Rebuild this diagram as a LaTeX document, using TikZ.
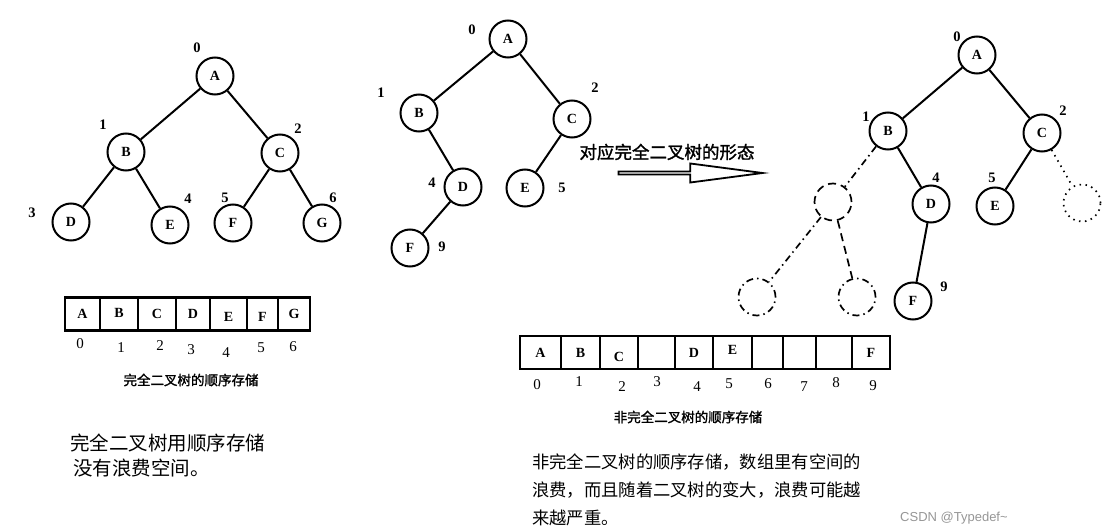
\documentclass[tikz,border=0pt]{standalone}
\usepackage{fontspec}
\setmainfont{Liberation Serif}
\newfontfamily\cjk{Noto Sans CJK SC}
\newfontfamily\cjkb[FakeBold=1.5]{Noto Sans CJK SC}
\newfontfamily\wmfont{Liberation Sans}
\usetikzlibrary{shapes.arrows}
\definecolor{wmgray}{RGB}{150,150,150}
\tikzset{
  tn/.style={circle, draw, line width=2pt, minimum size=37pt, inner sep=0pt,
    font=\bfseries\fontsize{14}{14}\selectfont},
  idx/.style={inner sep=0pt, font=\fontsize{15}{15}\selectfont},
  tidx/.style={inner sep=0pt, font=\bfseries\fontsize{14.5}{14.5}\selectfont},
  edge/.style={line width=2pt},
  ghost/.style={circle, draw, line width=1.7pt, minimum size=37pt, inner sep=0pt},
  cell/.style={draw, line width=2.2pt, minimum height=33pt, inner sep=0pt,
    text height=9.5pt, text depth=0pt,
    font=\bfseries\fontsize{14}{14}\selectfont},
  capt/.style={inner sep=0pt, font=\cjkb\fontsize{13.5}{13.5}\selectfont},
  bodytxt/.style={anchor=west, inner sep=0pt},
  dashdot/.style={dash pattern=on 7pt off 4pt on 1.5pt off 4pt},
  longdash/.style={dash pattern=on 8pt off 5pt},
  dotty/.style={dash pattern=on 1.5pt off 4.5pt},
}
\begin{document}
\begin{tikzpicture}[x=1pt,y=-1pt]
\useasboundingbox (0,0) rectangle (1112,527);

% ---------- left complete tree ----------
\node[tn] (LA) at (215,76) {A};
\node[tn] (LB) at (126,152) {B};
\node[tn] (LC) at (280,153) {C};
\node[tn] (LD) at (71,222) {D};
\node[tn] (LE) at (170,225) {E};
\node[tn] (LF) at (233,223) {F};
\node[tn] (LG) at (322,223) {G};
\draw[edge] (LA) -- (LB);
\draw[edge] (LA) -- (LC);
\draw[edge] (LB) -- (LD);
\draw[edge] (LB) -- (LE);
\draw[edge] (LC) -- (LF);
\draw[edge] (LC) -- (LG);
\node[tidx] (la0) at (197,48) {0};
\node[tidx] (la1) at (103,125) {1};
\node[tidx] (la2) at (298,129) {2};
\node[tidx] (la3) at (32,213) {3};
\node[tidx] (la4) at (188,199) {4};
\node[tidx] (la5) at (225,198) {5};
\node[tidx] (la6) at (333,198) {6};

% left array
\node[cell, minimum width=35pt] (ca0) at (82.5,314) {A};
\node[cell, minimum width=38pt] (ca1) at (119,314) {\raisebox{1.5pt}{B}};
\node[cell, minimum width=38pt] (ca2) at (157,314) {C};
\node[cell, minimum width=34pt] (ca3) at (193,314) {D};
\node[cell, minimum width=37pt] (ca4) at (228.5,314) {\raisebox{-2.5pt}{E}};
\node[cell, minimum width=31pt] (ca5) at (262.5,314) {\raisebox{-2.5pt}{F}};
\node[cell, minimum width=32pt] (ca6) at (294,314) {G};
\node[idx] (ia0) at (80,344) {0};
\node[idx] (ia1) at (121,348) {1};
\node[idx] (ia2) at (160,346) {2};
\node[idx] (ia3) at (191,350) {3};
\node[idx] (ia4) at (226,353) {4};
\node[idx] (ia5) at (261,348) {5};
\node[idx] (ia6) at (293,347) {6};
\node[capt] (capL) at (191,380) {完全二叉树的顺序存储};

\node[bodytxt, font=\cjk\fontsize{19.5}{19.5}\selectfont] (tL1) at (70,443) {完全二叉树用顺序存储};
\node[bodytxt, font=\cjk\fontsize{19.5}{19.5}\selectfont] (tL2) at (73,468) {没有浪费空间。};

% ---------- middle non-complete tree ----------
\node[tn] (MA) at (508,39) {A};
\node[tn] (MB) at (419,113) {B};
\node[tn] (MC) at (572,119) {C};
\node[tn] (MD) at (463,187) {D};
\node[tn] (ME) at (525,188) {E};
\node[tn] (MF) at (410,248) {F};
\draw[edge] (MA) -- (MB);
\draw[edge] (MA) -- (MC);
\draw[edge] (MB) -- (MD);
\draw[edge] (MC) -- (ME);
\draw[edge] (MD) -- (MF);
\node[tidx] (ma0) at (472,30) {0};
\node[tidx] (ma1) at (381,93) {1};
\node[tidx] (ma2) at (595,88) {2};
\node[tidx] (ma4) at (432,183) {4};
\node[tidx] (ma5) at (562,188) {5};
\node[tidx] (ma9) at (442,247) {9};

% arrow
\node[inner sep=0pt, font=\cjkb\fontsize{17.5}{17.5}\selectfont] (arrtxt) at (667,152) {对应完全二叉树的形态};
\node[single arrow, draw, line width=1.8pt, minimum height=144pt, minimum width=19pt,
      single arrow head extend=5pt, single arrow tip angle=15, inner sep=0pt,
      shape border rotate=0] (arr) at (685,173) {};

% ---------- right tree (complete form) ----------
\node[tn] (RA) at (977,55) {A};
\node[tn] (RB) at (888,131) {B};
\node[tn] (RC) at (1042,133) {C};
\node[tn] (RD) at (931,204) {D};
\node[tn] (RE) at (995,206) {E};
\node[tn] (RF) at (913,301) {F};
\node[ghost, longdash] (RG3) at (833,202) {};
\node[ghost, dotty] (RG6) at (1082,203) {};
\node[ghost, dashdot] (RG7) at (757,297) {};
\node[ghost, dashdot] (RG8) at (857,297) {};
\draw[edge] (RA) -- (RB);
\draw[edge] (RA) -- (RC);
\draw[edge] (RB) -- (RD);
\draw[edge] (RC) -- (RE);
\draw[edge] (RD) -- (RF);
\draw[line width=1.7pt, dashdot] (RB) -- (RG3);
\draw[line width=1.7pt, dotty] (RC) -- (RG6);
\draw[line width=1.7pt, dashdot] (RG3) -- (RG7);
\draw[line width=1.7pt, longdash] (RG3) -- (RG8);
\node[tidx] (ra0) at (957,37) {0};
\node[tidx] (ra1) at (866,117) {1};
\node[tidx] (ra2) at (1063,111) {2};
\node[tidx] (ra4) at (936,178) {4};
\node[tidx] (ra5) at (992,178) {5};
\node[tidx] (ra9) at (944,287) {9};

% bottom array
\node[cell, minimum width=41pt] (cb0) at (540.5,352.5) {A};
\node[cell, minimum width=39pt] (cb1) at (580.5,352.5) {B};
\node[cell, minimum width=38pt] (cb2) at (619,352.5) {\raisebox{-4.5pt}{C}};
\node[cell, minimum width=37pt] (cb3) at (656.5,352.5) {};
\node[cell, minimum width=38pt] (cb4) at (694,352.5) {D};
\node[cell, minimum width=39pt] (cb5) at (732.5,352.5) {\raisebox{3pt}{E}};
\node[cell, minimum width=31pt] (cb6) at (767.5,352.5) {};
\node[cell, minimum width=33pt] (cb7) at (799.5,352.5) {};
\node[cell, minimum width=36pt] (cb8) at (834,352.5) {};
\node[cell, minimum width=38pt] (cb9) at (871,352.5) {F};
\node[idx] (ib0) at (537,385) {0};
\node[idx] (ib1) at (579,382) {1};
\node[idx] (ib2) at (622,387) {2};
\node[idx] (ib3) at (657,382) {3};
\node[idx] (ib4) at (697,387) {4};
\node[idx] (ib5) at (729,384) {5};
\node[idx] (ib6) at (768,384) {6};
\node[idx] (ib7) at (804,387) {7};
\node[idx] (ib8) at (836,383) {8};
\node[idx] (ib9) at (873,386) {9};
\node[capt] (capR) at (688,417) {非完全二叉树的顺序存储};

\node[bodytxt, font=\cjk\fontsize{17.3}{17.3}\selectfont] (tR1) at (532,462) {非完全二叉树的顺序存储，数组里有空间的};
\node[bodytxt, font=\cjk\fontsize{17.3}{17.3}\selectfont] (tR2) at (532,490) {浪费，而且随着二叉树的变大，浪费可能越};
\node[bodytxt, font=\cjk\fontsize{17.3}{17.3}\selectfont] (tR3) at (532,518) {来越严重。};

\node[anchor=west, inner sep=0pt, text=wmgray, font=\wmfont\fontsize{13}{13}\selectfont] (wm) at (900,518) {CSDN @Typedef\textasciitilde};
\end{tikzpicture}
\end{document}
